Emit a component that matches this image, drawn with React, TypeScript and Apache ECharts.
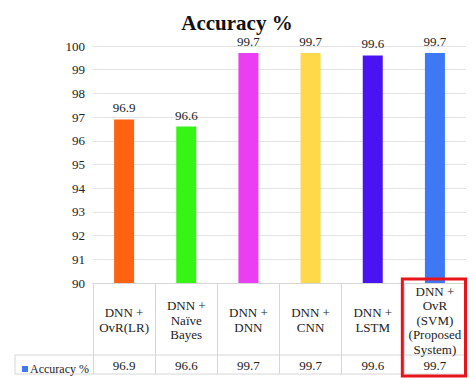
import React, { useEffect, useRef } from "react";
import * as echarts from "echarts";

const categories = [
  "DNN +\nOvR(LR)",
  "DNN +\nNaïve\nBayes",
  "DNN +\nDNN",
  "DNN +\nCNN",
  "DNN +\nLSTM",
  "DNN +\nOvR\n(SVM)\n(Proposed\nSystem)",
];
const accuracy = [96.9, 96.6, 99.7, 99.7, 99.6, 99.7];
const barColors = ["#FF6312", "#36F515", "#EA3EF2", "#FFD94A", "#4A14F2", "#3F78F5"];
const seriesName = "Accuracy %";
const yTicks = { min: 90, max: 100, interval: 1 };

const FONT = "Liberation Serif, Times New Roman, serif";

export default function App() {
  const ref = useRef<HTMLDivElement>(null);
  useEffect(() => {
    if (!ref.current) return;
    const chart = echarts.init(ref.current, undefined, { renderer: "svg" });
    const gridLeft = 93;
    const gridRight = 8;
    const gridTop = 46;
    const gridBottom = 96;
    const W = 474;
    const H = 379;
    const axisY = H - gridBottom; // 283
    const rowLine = 355;
    const tableBottom = 374;
    const lineColor = "#d6d6d6";
    const colW = (W - gridLeft - gridRight) / categories.length;
    chart.setOption({
      animation: false,
      textStyle: { fontFamily: FONT },
      title: {
        text: "Accuracy %",
        left: "center",
        top: 7,
        textStyle: { fontFamily: FONT, fontSize: 21, fontWeight: "bold", color: "#111" },
      },
      legend: {
        data: [seriesName],
        left: 17,
        top: rowLine + 3,
        icon: "rect",
        itemWidth: 6,
        itemHeight: 6,
        itemGap: 4,
        textStyle: { fontFamily: FONT, fontSize: 12, color: "#222", padding: [0, 0, 0, -3] },
        selectedMode: false,
      },
      grid: { left: gridLeft, right: gridRight, top: gridTop, bottom: gridBottom },
      xAxis: [
        {
          type: "category",
          data: categories,
          axisLine: { show: true, lineStyle: { color: lineColor, width: 1 } },
          axisTick: { show: true, interval: 0, length: tableBottom - axisY, lineStyle: { color: lineColor } },
          axisLabel: {
            interval: 0,
            margin: 37,
            verticalAlign: "middle",
            lineHeight: 14.5,
            fontFamily: FONT,
            fontSize: 13,
            color: "#222",
          },
        },
        {
          type: "category",
          position: "bottom",
          data: accuracy.map((v) => v.toFixed(1)),
          axisLine: { show: false },
          axisTick: { show: false },
          axisLabel: {
            interval: 0,
            margin: 82,
            verticalAlign: "middle",
            fontFamily: FONT,
            fontSize: 13,
            color: "#222",
          },
        },
      ],
      yAxis: {
        type: "value",
        min: yTicks.min,
        max: yTicks.max,
        interval: yTicks.interval,
        axisLine: { show: false },
        axisTick: { show: false },
        splitLine: { lineStyle: { color: "#e4e4e4" } },
        axisLabel: { fontFamily: FONT, fontSize: 13, color: "#222", margin: 8 },
      },
      series: [
        {
          name: seriesName,
          type: "bar",
          barWidth: 20,
          itemStyle: { color: barColors[5] },
          data: accuracy.map((v, i) => ({ value: v, itemStyle: { color: barColors[i] } })),
          label: {
            show: true,
            position: "top",
            distance: 5,
            fontFamily: FONT,
            fontSize: 13,
            color: "#222",
          },
        },
      ],
      graphic: [
        {
          type: "line",
          shape: { x1: 15, y1: rowLine, x2: W - gridRight, y2: rowLine },
          style: { stroke: lineColor, lineWidth: 1 },
        },
        {
          type: "line",
          shape: { x1: 15, y1: tableBottom, x2: W - gridRight, y2: tableBottom },
          style: { stroke: lineColor, lineWidth: 1 },
        },
        {
          type: "line",
          shape: { x1: 15, y1: rowLine, x2: 15, y2: tableBottom },
          style: { stroke: lineColor, lineWidth: 1 },
        },
        {
          type: "rect",
          shape: {
            x: gridLeft + colW * (categories.length - 1) - 1.5,
            y: axisY - 4,
            width: colW + 1,
            height: tableBottom - axisY + 6,
          },
          style: { fill: "none", stroke: "#E8141C", lineWidth: 3 },
          z: 100,
        },
      ],
    });
    return () => chart.dispose();
  }, []);
  return <div ref={ref} style={{ width: 474, height: 379, position: "absolute", left: 0, top: 0 }} />;
}
